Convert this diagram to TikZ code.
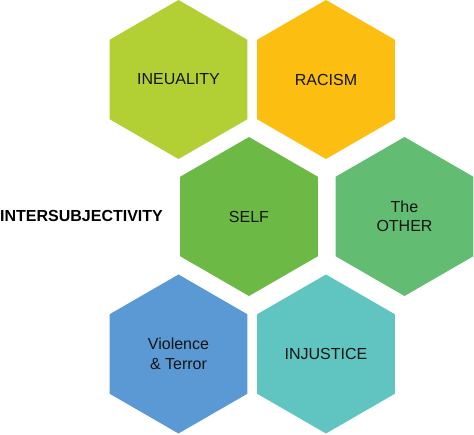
\documentclass[tikz,border=0pt]{standalone}
\usepackage{fontspec}
\setmainfont{Liberation Sans}
\usetikzlibrary{shapes.geometric}
\definecolor{cLime}{RGB}{178,208,52}
\definecolor{cOrange}{RGB}{252,190,17}
\definecolor{cSelf}{RGB}{108,186,69}
\definecolor{cOther}{RGB}{98,188,114}
\definecolor{cBlue}{RGB}{90,153,211}
\definecolor{cTeal}{RGB}{96,196,193}
\definecolor{cText}{RGB}{20,20,20}
\tikzset{
  hexcell/.style={regular polygon, regular polygon sides=6, shape border rotate=30,
    minimum size=159pt, inner sep=0pt, draw=none, fill=#1,
    text=cText, align=center, font=\fontsize{16}{19.5}\selectfont},
  sidelabel/.style={inner sep=0pt, font=\fontsize{16}{19}\selectfont\bfseries, text=black}
}
\begin{document}
\begin{tikzpicture}[x=1pt,y=-1pt]
\useasboundingbox (0,0) rectangle (474,435);
\node[hexcell=cLime]   (ineq)  at (178.5,79.5) {INEUALITY};
\node[hexcell=cOrange] (racism) at (326,79.5)  {RACISM};
\node[hexcell=cSelf]   (self)  at (249,216.5) {SELF};
\node[hexcell=cOther]  (other) at (404.5,216.5) {The\\OTHER};
\node[hexcell=cBlue]   (viol)  at (178.5,354) {Violence\\\& Terror};
\node[hexcell=cTeal]   (injust) at (326,354)  {INJUSTICE};
\node[sidelabel, anchor=west] (inter) at (0,216) {INTERSUBJECTIVITY};
\end{tikzpicture}
\end{document}
